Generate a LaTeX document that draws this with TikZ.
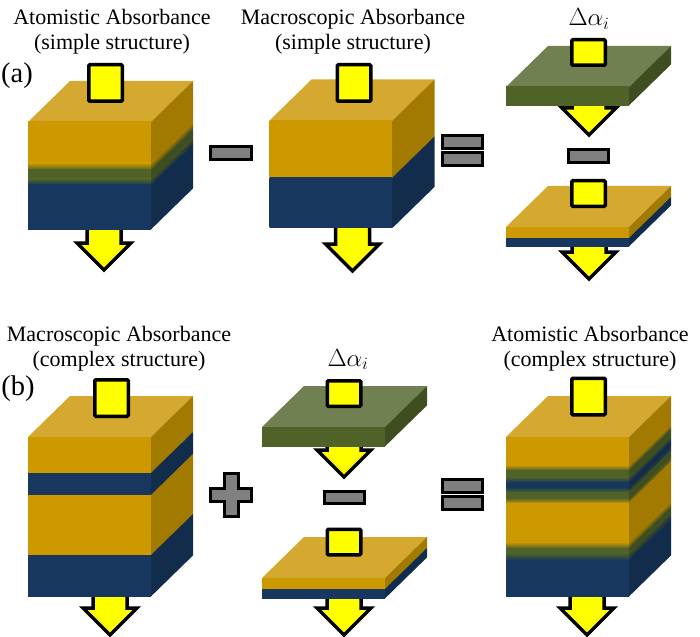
\documentclass[tikz,border=0pt]{standalone}
\usepackage{fontspec}
\usepackage{amsmath,amssymb}
\setmainfont{Liberation Serif}
\usetikzlibrary{positioning}

\definecolor{goldfront}{HTML}{CC9900}
\definecolor{goldtop}{HTML}{D5A82F}
\definecolor{navyfront}{HTML}{17375E}
\definecolor{greenfront}{HTML}{4F6228}
\definecolor{greentop}{HTML}{708050}
\definecolor{opgray}{HTML}{808080}
\definecolor{lightyellow}{HTML}{FFFF00}

\tikzset{
	titletext/.style={font=\fontsize{22}{24}\selectfont,inner sep=0pt,anchor=base},
	parttext/.style={font=\fontsize{28.5}{30}\selectfont,inner sep=0pt,anchor=base},
	deltatext/.style={font=\fontsize{27}{29}\selectfont,inner sep=0pt,anchor=base},
	inbox/.style={rectangle,draw=black,fill=lightyellow,line width=3.5pt,rounded corners=1pt,inner sep=0pt,minimum width=33.5pt,minimum height=36.5pt},
	inflat/.style={inbox,minimum height=25.5pt},
	opbar/.style={rectangle,draw=black,fill=opgray,line width=3pt,inner sep=0pt,minimum width=40pt,minimum height=12.5pt},
	outshape/.style={draw=black,fill=lightyellow,line width=3.5pt,miter limit=10}
}

% one band of a block: x, y top, y bottom, colour above, colour below
\newcommand{\band}[5]{
	\shade[top color=#4,bottom color=#5] (#1,#2) rectangle (#1+123,#3+0.4);
	\shade[transform canvas={cm={1,0.976,0,1,(#1+123,0)}},top color=#4!80!black,bottom color=#5!80!black] (0,#2) rectangle (42,#3+0.4);
}
% upper face of a block: x, y of front edge, colour
\newcommand{\topface}[3]{
	\fill[#3] (#1,#2) -- (#1+42,#2-41) -- (#1+165,#2-41) -- (#1+123,#2) -- cycle;
}
% yellow arrow leaving a block: x, y of the wings
\newcommand{\outarrow}[2]{
	\draw[outshape] (#1-17,#2-30) -- (#1-17,#2) -- (#1-27,#2) -- (#1,#2+27) -- (#1+27,#2) -- (#1+17,#2) -- (#1+17,#2-30) -- cycle;
}

\begin{document}
\begin{tikzpicture}[x=1pt,y=-1pt]
	\useasboundingbox (0,0) rectangle (700,636);

	% part (a)
	\node[parttext] (a) at (17,83) {(a)};
	\node[titletext] (atomA) at (112,25) {Atomistic Absorbance};
	\node[titletext] (atomAsub) at (112,50) {(simple structure)};
	\node[titletext] (macroA) at (353,25) {Macroscopic Absorbance};
	\node[titletext] (macroAsub) at (353,50) {(simple structure)};
	\node[deltatext] (deltaA) at (589,26) {$\Delta\alpha_i$};

	\outarrow{104}{243}
	\topface{28}{122}{goldtop}
	\band{28}{122}{163}{goldfront}{goldfront}
	\band{28}{163}{170}{goldfront}{greenfront}
	\band{28}{170}{179}{greenfront}{greenfront}
	\band{28}{179}{185}{greenfront}{navyfront}
	\band{28}{185}{229}{navyfront}{navyfront}
	\node[inbox] (inA1) at (105.5,83) {};

	\node[opbar,minimum width=41pt] (minusA1) at (231,153) {};

	\outarrow{352.5}{244}
	\topface{269.5}{120.5}{goldtop}
	\band{269.5}{120.5}{177.5}{goldfront}{goldfront}
	\band{269.5}{177.5}{227.5}{navyfront}{navyfront}
	\node[inbox] (inA2) at (354,83) {};

	\node[opbar] (eqA1) at (462.5,142) {};
	\node[opbar] (eqA2) at (462.5,159) {};

	\outarrow{589}{108}
	\topface{506}{87}{greentop}
	\band{506}{87}{105}{greenfront}{greenfront}
	\node[inflat] (inA3) at (588.5,52.5) {};

	\node[opbar] (minusA2) at (588.5,156) {};

	\outarrow{589}{252}
	\topface{506}{227}{goldtop}
	\band{506}{227}{238}{goldfront}{goldfront}
	\band{506}{238}{246}{navyfront}{navyfront}
	\node[inflat] (inA4) at (588.5,193.5) {};

	% part (b)
	\node[parttext] (b) at (18,395) {(b)};
	\node[titletext] (macroB) at (119,341) {Macroscopic Absorbance};
	\node[titletext] (macroBsub) at (119,366) {(complex structure)};
	\node[deltatext] (deltaB) at (348,366) {$\Delta\alpha_i$};
	\node[titletext] (atomB) at (590,341) {Atomistic Absorbance};
	\node[titletext] (atomBsub) at (590,366) {(complex structure)};

	\outarrow{110}{608}
	\topface{28}{437}{goldtop}
	\band{28}{437}{473}{goldfront}{goldfront}
	\band{28}{473}{495}{navyfront}{navyfront}
	\band{28}{495}{555}{goldfront}{goldfront}
	\band{28}{555}{596}{navyfront}{navyfront}
	\node[inbox] (inB1) at (111.5,398) {};

	\draw[draw=black,fill=opgray,line width=3pt,miter limit=10] (224.5,473.5) -- (238.5,473.5) -- (238.5,488.5) -- (251.5,488.5) -- (251.5,501.5) -- (238.5,501.5) -- (238.5,516.5) -- (224.5,516.5) -- (224.5,501.5) -- (210.5,501.5) -- (210.5,488.5) -- (224.5,488.5) -- cycle;

	\outarrow{344}{450}
	\topface{262}{427}{greentop}
	\band{262}{427}{446}{greenfront}{greenfront}
	\node[inflat] (inB2) at (344,393.5) {};

	\node[opbar] (minusB) at (344,497.5) {};

	\outarrow{344}{608}
	\topface{262}{578}{goldtop}
	\band{262}{578}{589}{goldfront}{goldfront}
	\band{262}{589}{598}{navyfront}{navyfront}
	\node[inflat] (inB3) at (344,542) {};

	\node[opbar] (eqB1) at (462.5,486) {};
	\node[opbar] (eqB2) at (462.5,503) {};

	\outarrow{587}{608}
	\topface{506}{437}{goldtop}
	\band{506}{437}{465}{goldfront}{goldfront}
	\band{506}{465}{470}{goldfront}{greenfront}
	\band{506}{470}{477}{greenfront}{greenfront}
	\band{506}{477}{482}{greenfront}{navyfront}
	\band{506}{482}{487}{navyfront}{navyfront}
	\band{506}{487}{492}{navyfront}{greenfront}
	\band{506}{492}{498}{greenfront}{greenfront}
	\band{506}{498}{503}{greenfront}{goldfront}
	\band{506}{503}{542}{goldfront}{goldfront}
	\band{506}{542}{548}{goldfront}{greenfront}
	\band{506}{548}{553}{greenfront}{greenfront}
	\band{506}{553}{560}{greenfront}{navyfront}
	\band{506}{560}{596}{navyfront}{navyfront}
	\node[inbox] (inB4) at (588.5,396.5) {};
\end{tikzpicture}
\end{document}
